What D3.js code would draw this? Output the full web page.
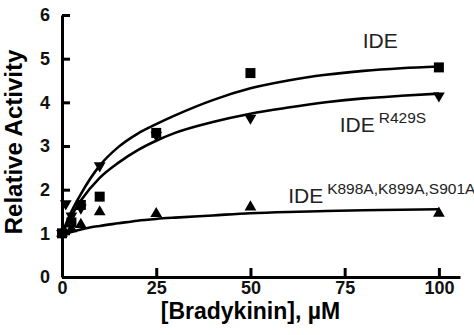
<!DOCTYPE html>
<html>
<head>
<meta charset="utf-8">
<script src="https://cdn.jsdelivr.net/npm/d3@7"></script>
<style>
  body { margin: 0; background: #fff; }
  svg { display: block; font-family: "Liberation Sans", Arial, sans-serif; }
</style>
</head>
<body>
<div id="viz"></div>
<script>
// measured points, [Bradykinin] in uM vs relative activity
const ideX = [0, 2.5, 5, 10, 25, 50, 100];
const ideY = [1.0, 1.25, 1.65, 1.84, 3.3, 4.67, 4.8];

const r429sX = [0, 1, 2.5, 5, 10, 25, 50, 100];
const r429sY = [1.0, 1.68, 1.4, 1.58, 2.55, 3.25, 3.64, 4.15];

const kX = [0, 2.5, 5, 10, 25, 50, 100];
const kY = [1.0, 1.1, 1.2, 1.49, 1.45, 1.6, 1.46];

// fitted curves
const fitX = [0, 2.5, 5, 10, 15, 20, 25, 30, 40, 50, 60, 70, 80, 90, 100];
const ideFit = [1.0, 1.5, 1.9, 2.55, 2.98, 3.28, 3.5, 3.7, 4.05, 4.32, 4.5, 4.63, 4.72, 4.78, 4.82];
const r429sFit = [1.0, 1.4, 1.75, 2.27, 2.62, 2.9, 3.12, 3.3, 3.55, 3.74, 3.88, 4.0, 4.09, 4.15, 4.2];
const kFit = [0.95, 1.03, 1.09, 1.17, 1.23, 1.29, 1.33, 1.36, 1.41, 1.46, 1.49, 1.51, 1.53, 1.54, 1.55];

const xTicks = [0, 25, 50, 75, 100];
const yTicks = [0, 1, 2, 3, 4, 5, 6];

const width = 474, height = 335;

const svg = d3.select('#viz')
  .append('svg')
  .attr('width', width)
  .attr('height', height);

const x = d3.scaleLinear()
  .domain([0, 105.6])
  .range([62, 460]);

const y = d3.scaleLinear()
  .domain([0, 6])
  .range([277, 15]);

// axes
const gx = svg.append('g')
  .attr('transform', `translate(0,${y(0)})`)
  .call(d3.axisBottom(x).tickValues(xTicks).tickFormat(d3.format('d')).tickSize(-9).tickSizeOuter(0));

const gy = svg.append('g')
  .attr('transform', `translate(${x(0)},0)`)
  .call(d3.axisLeft(y).tickValues(yTicks).tickFormat(d3.format('d')).tickSize(-8).tickSizeOuter(0));

[gx, gy].forEach(g => {
  g.select('.domain').attr('stroke', '#000').attr('stroke-width', 3);
  g.selectAll('.tick line').attr('stroke', '#000').attr('stroke-width', 3);
  g.selectAll('.tick text')
    .attr('fill', '#111')
    .style('font-size', '18px')
    .style('font-weight', 'bold')
    .style('font-family', '"Liberation Sans", Arial, sans-serif');
});
gx.selectAll('.tick text').attr('y', 17).attr('dy', 0);
gy.selectAll('.tick text').attr('x', -12);

// axis titles
svg.append('text')
  .attr('x', (x(0) + x(100)) / 2)
  .attr('y', 319)
  .attr('text-anchor', 'middle')
  .style('font-size', '23px')
  .style('font-weight', 'bold')
  .text('[Bradykinin], µM');

svg.append('text')
  .attr('transform', `translate(22,${y(3) - 4}) rotate(-90)`)
  .attr('text-anchor', 'middle')
  .style('font-size', '24px')
  .style('font-weight', 'bold')
  .text('Relative Activity');

// fit curves
const line = d3.line()
  .x(d => x(d[0]))
  .y(d => y(d[1]))
  .curve(d3.curveMonotoneX);

[ideFit, r429sFit, kFit].forEach(fit => {
  svg.append('path')
    .datum(fitX.map((v, i) => [v, fit[i]]))
    .attr('d', line)
    .attr('fill', 'none')
    .attr('stroke', '#000')
    .attr('stroke-width', 2.6);
});

// markers
const sq = d3.symbol().type(d3.symbolSquare).size(100);
const tri = d3.symbol().type(d3.symbolTriangle).size(60);

svg.append('g').selectAll('path')
  .data(ideX.map((v, i) => [v, ideY[i]]))
  .join('path')
  .attr('transform', d => `translate(${x(d[0])},${y(d[1])})`)
  .attr('d', sq)
  .attr('fill', '#000');

svg.append('g').selectAll('path')
  .data(r429sX.map((v, i) => [v, r429sY[i]]))
  .join('path')
  .attr('transform', d => `translate(${x(d[0])},${y(d[1])}) rotate(180)`)
  .attr('d', tri)
  .attr('fill', '#000');

svg.append('g').selectAll('path')
  .data(kX.map((v, i) => [v, kY[i]]))
  .join('path')
  .attr('transform', d => `translate(${x(d[0])},${y(d[1])})`)
  .attr('d', tri)
  .attr('fill', '#000');

// series labels
const labels = [
  { x: 79.8, y: 5.24, sup: '' },
  { x: 73.7, y: 3.33, sup: 'R429S' },
  { x: 60, y: 1.69, sup: 'K898A,K899A,S901A' }
];

labels.forEach(l => {
  const t = svg.append('text')
    .attr('x', x(l.x))
    .attr('y', y(l.y))
    .attr('fill', '#222')
    .style('font-size', '21px')
    .text('IDE');
  if (l.sup) {
    t.append('tspan')
      .attr('dx', 4)
      .attr('dy', -9)
      .style('font-size', '15.5px')
      .text(l.sup);
  }
});
</script>
</body>
</html>
